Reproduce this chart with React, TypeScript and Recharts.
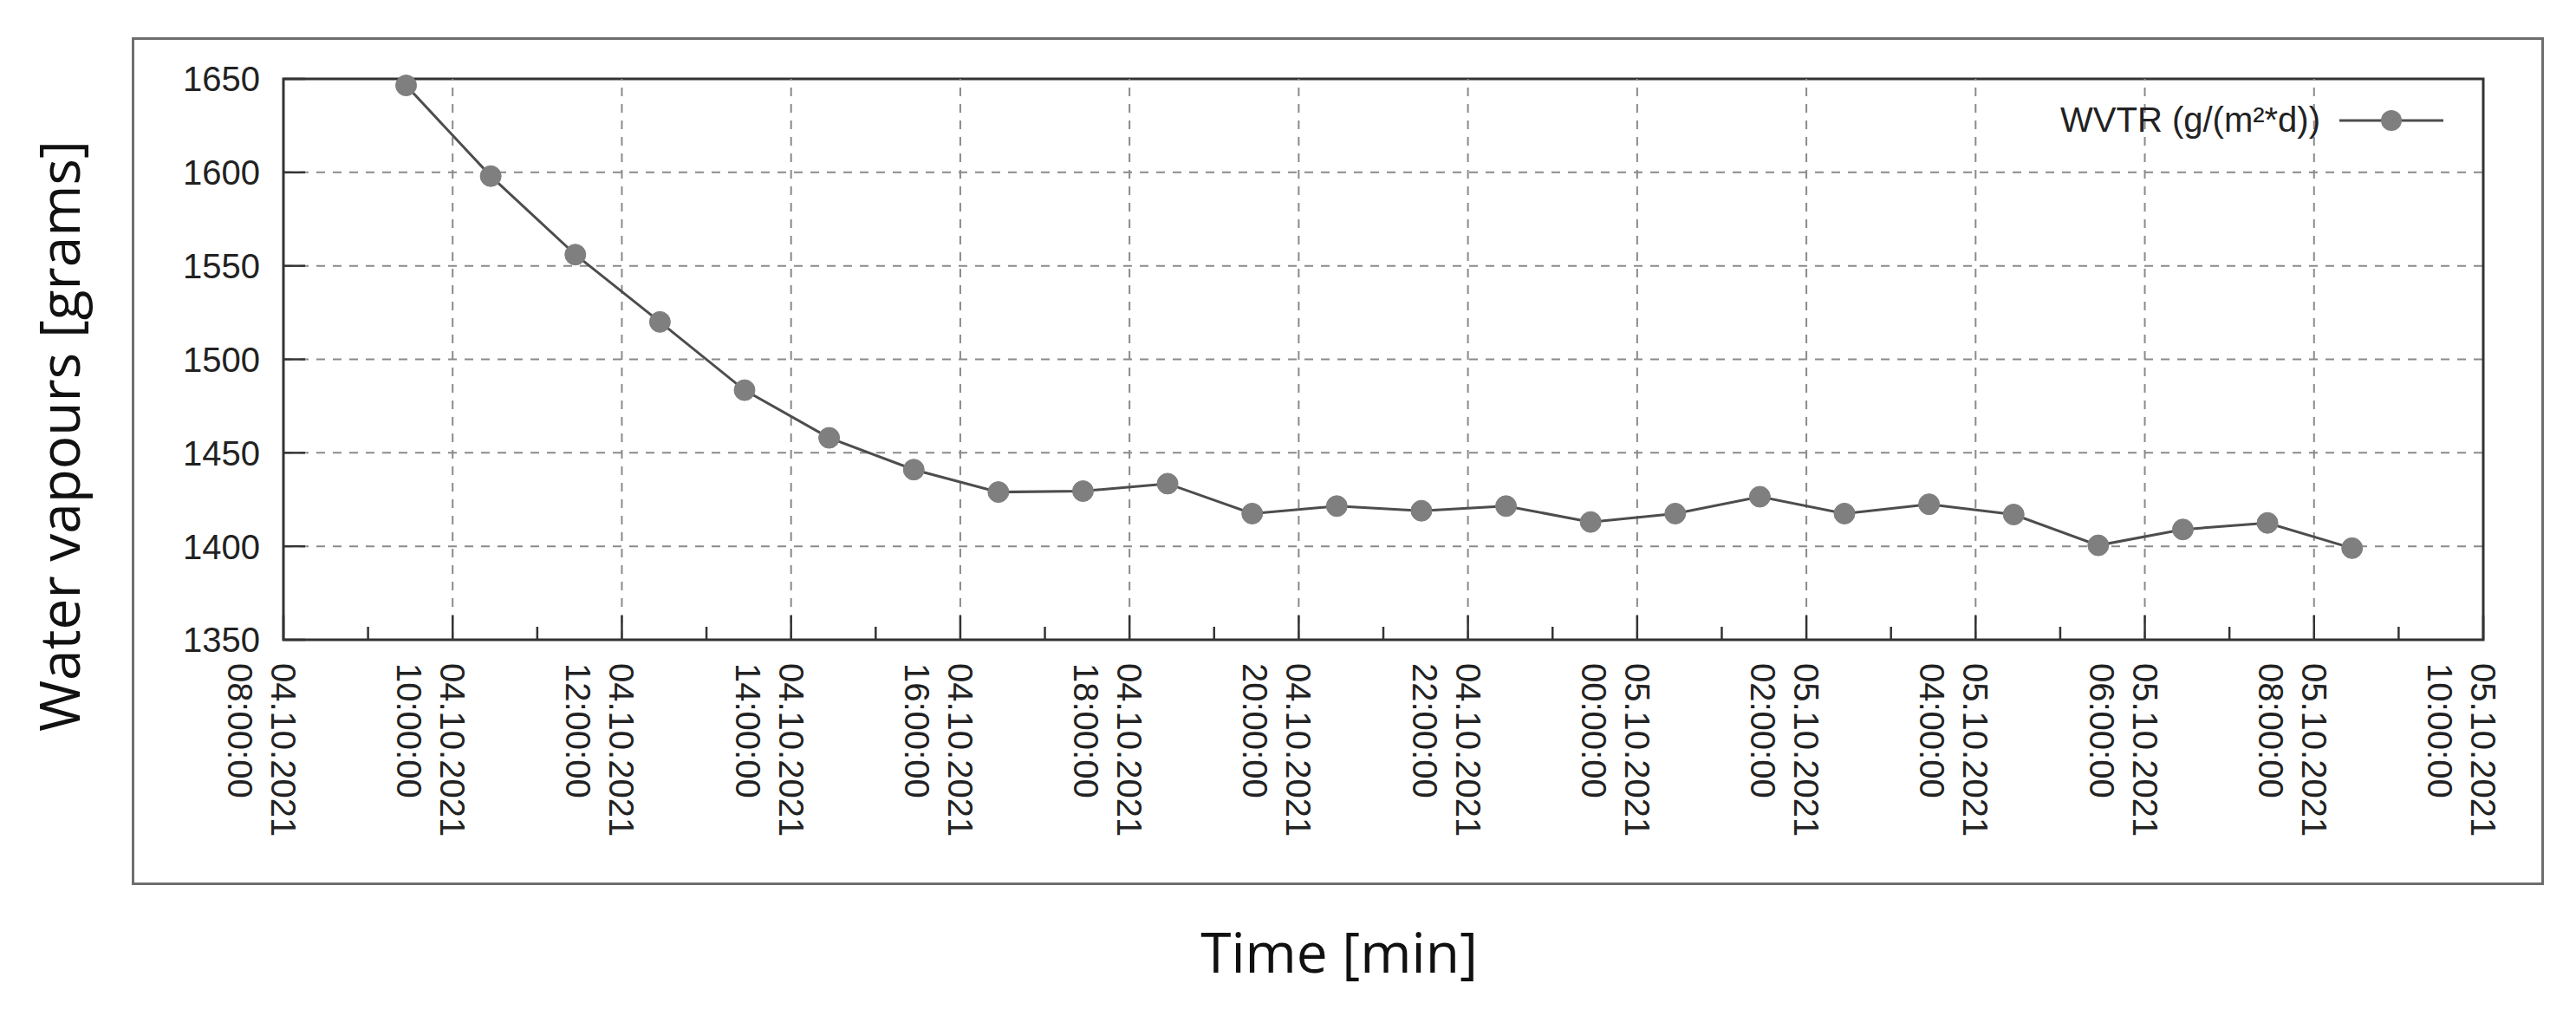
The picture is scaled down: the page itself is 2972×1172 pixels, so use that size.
import { LineChart, Line, CartesianGrid, XAxis, YAxis, ReferenceLine, ReferenceArea, Legend } from 'recharts';

// hours counted from 04.10.2021 00:00
const pointHours = [9.45, 10.45, 11.45, 12.45, 13.45, 14.45, 15.45, 16.45, 17.45, 18.45, 19.45, 20.45, 21.45, 22.45, 23.45, 24.45, 25.45, 26.45, 27.45, 28.45, 29.45, 30.45, 31.45, 32.45];
const wvtrValues = [1646.5, 1598, 1556, 1520, 1483.5, 1458, 1441, 1429, 1429.5, 1433.5, 1417.5, 1421.5, 1419, 1421.5, 1413, 1417.5, 1426.5, 1417.5, 1422.5, 1417, 1400.5, 1409, 1412.5, 1399];

const majorHours = [8, 10, 12, 14, 16, 18, 20, 22, 24, 26, 28, 30, 32, 34];
const minorHours = [9, 11, 13, 15, 17, 19, 21, 23, 25, 27, 29, 31, 33];
const tickDates = ['04.10.2021', '04.10.2021', '04.10.2021', '04.10.2021', '04.10.2021', '04.10.2021', '04.10.2021', '04.10.2021', '05.10.2021', '05.10.2021', '05.10.2021', '05.10.2021', '05.10.2021', '05.10.2021'];
const tickTimes = ['08:00:00', '10:00:00', '12:00:00', '14:00:00', '16:00:00', '18:00:00', '20:00:00', '22:00:00', '00:00:00', '02:00:00', '04:00:00', '06:00:00', '08:00:00', '10:00:00'];
const yTicks = [1350, 1400, 1450, 1500, 1550, 1600, 1650];

const data = pointHours.map((h, i) => ({ hour: h, wvtr: wvtrValues[i] }));
const xTicks = [...majorHours, ...minorHours].sort((a, b) => a - b);

const tickFont = '"Liberation Sans", Arial, sans-serif';
const titleFont = '"Open Sans", "Noto Sans", sans-serif';
const axisColor = '#333';

function BottomTick({ x, y, payload }: any) {
  const i = majorHours.indexOf(payload.value);
  const major = i >= 0;
  return (
    <g>
      <line x1={x} y1={y} x2={x} y2={y - (major ? 28 : 15)} stroke={axisColor} strokeWidth={2.5} />
      {major && (
        <text transform={`translate(${x},${y + 27}) rotate(90)`} fontSize={40} fill="#222" fontFamily={tickFont}>
          <tspan x={0} y={14}>{tickDates[i]}</tspan>
          <tspan x={0} y={64}>{tickTimes[i]}</tspan>
        </text>
      )}
    </g>
  );
}

function TopTick({ x, y, payload }: any) {
  const major = majorHours.includes(payload.value);
  return <line x1={x} y1={y} x2={x} y2={y + (major ? 28 : 15)} stroke={axisColor} strokeWidth={2.5} />;
}

function LeftTick({ x, y, payload }: any) {
  return (
    <g>
      <line x1={x} y1={y} x2={x + 25} y2={y} stroke={axisColor} strokeWidth={2.5} />
      <text x={x - 27} y={y} dy="0.36em" textAnchor="end" fontSize={40} fill="#222" fontFamily={tickFont}>
        {payload.value}
      </text>
    </g>
  );
}

function RightTick({ x, y }: any) {
  return <line x1={x} y1={y} x2={x - 25} y2={y} stroke={axisColor} strokeWidth={2.5} />;
}

function LegendBox() {
  return (
    <div style={{ display: 'flex', alignItems: 'center', fontFamily: tickFont, fontSize: 40, color: '#222', whiteSpace: 'nowrap' }}>
      <span>WVTR (g/(m²*d))</span>
      <svg width={120} height={30} style={{ marginLeft: 22 }}>
        <line x1={0} y1={15} x2={120} y2={15} stroke="#4d4d4d" strokeWidth={3} />
        <circle cx={60} cy={15} r={12} fill="#7f7f7f" />
      </svg>
    </div>
  );
}

export default function App() {
  return (
    <div style={{ position: 'relative', width: 2972, height: 1172, overflow: 'hidden', background: '#fff' }}>
      <style>{'body{margin:0}'}</style>
      <div style={outerBox} />
      <LineChart width={2972} height={1172} data={data} margin={{ top: 91, right: 107, bottom: 0, left: 0 }}>
        <CartesianGrid horizontal vertical={false} stroke="#8a8a8a" strokeWidth={2} strokeDasharray="10 9" />
        {majorHours.slice(1, -1).map((h) => (
          <ReferenceLine key={h} x={h} stroke="#8a8a8a" strokeWidth={2} strokeDasharray="10 9" />
        ))}
        <XAxis
          dataKey="hour"
          type="number"
          domain={[8, 34]}
          ticks={xTicks}
          interval={0}
          height={434}
          tickSize={0}
          tickMargin={0}
          axisLine={false}
          tickLine={false}
          tick={<BottomTick />}
          label={() => (
            <text x={1545} y={1122} textAnchor="middle" fontSize={64} fontFamily={titleFont} fill="#111">
              Time [min]
            </text>
          )}
        />
        <XAxis
          xAxisId="top"
          orientation="top"
          dataKey="hour"
          type="number"
          domain={[8, 34]}
          ticks={xTicks}
          interval={0}
          height={0}
          tickSize={0}
          tickMargin={0}
          axisLine={false}
          tickLine={false}
          tick={<TopTick />}
        />
        <YAxis
          type="number"
          domain={[1350, 1650]}
          ticks={yTicks}
          interval={0}
          width={327}
          tickSize={0}
          tickMargin={0}
          axisLine={false}
          tickLine={false}
          tick={<LeftTick />}
          label={() => (
            <text transform="translate(92,503) rotate(-90)" textAnchor="middle" fontSize={64} fontFamily={titleFont} fill="#111">
              Water vapours [grams]
            </text>
          )}
        />
        <YAxis
          yAxisId="right"
          orientation="right"
          type="number"
          domain={[1350, 1650]}
          ticks={yTicks}
          interval={0}
          width={0}
          tickSize={0}
          tickMargin={0}
          axisLine={false}
          tickLine={false}
          tick={<RightTick />}
        />
        <ReferenceArea x1={8} x2={34} y1={1350} y2={1650} fill="none" stroke={axisColor} strokeWidth={3} ifOverflow="visible" />
        <Legend
          layout="horizontal"
          verticalAlign="middle"
          align="center"
          content={<LegendBox />}
          wrapperStyle={{ top: 116, right: 153, left: 'auto', width: 'auto', height: 50 }}
        />
        <Line
          type="linear"
          dataKey="wvtr"
          stroke="#4d4d4d"
          strokeWidth={3}
          dot={{ r: 12, fill: '#7f7f7f', stroke: '#7f7f7f', strokeWidth: 1 }}
          activeDot={false}
          isAnimationActive={false}
        />
      </LineChart>
    </div>
  );
}

const outerBox = {
  position: 'absolute' as const,
  left: 152,
  top: 43,
  width: 2783,
  height: 978,
  boxSizing: 'border-box' as const,
  border: '3px solid #6e6e6e'
};
